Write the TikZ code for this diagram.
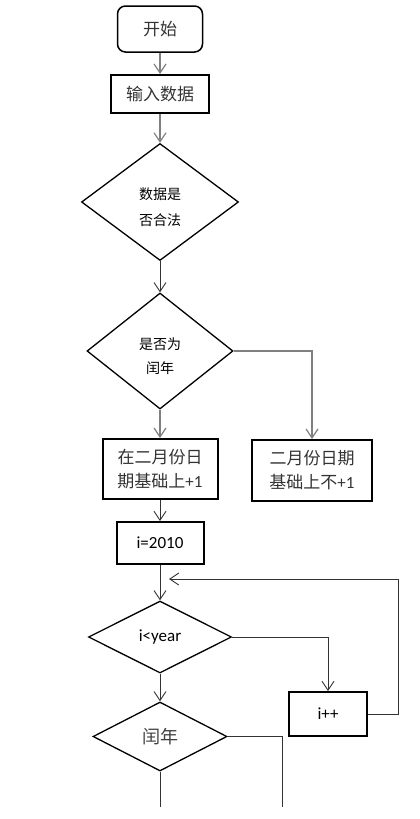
\documentclass[tikz,border=0pt]{standalone}
\usepackage{fontspec}
\setmainfont{Carlito}
\newfontfamily\cjk{Noto Sans CJK SC}
\usetikzlibrary{shapes.geometric, arrows.meta}
\tikzstyle{arrow} = [->,>={Straight Barb[length=9pt,width=12pt]}]
\tikzstyle{grayline} = [draw=black!50, line width=1.2pt]
\tikzstyle{darkline} = [draw=black!80, line width=0.9pt]
\tikzstyle{procbox} = [rectangle, draw, line width=2pt, inner sep=0pt, align=center, text=black!80, font=\fontsize{17}{24}\selectfont]
\tikzstyle{decision} = [diamond, draw, line width=1.3pt, inner sep=0pt, align=center]

\begin{document}
\begin{tikzpicture}[x=1pt,y=-1pt]
    \useasboundingbox (0,0) rectangle (420,819);
    % Nodes
    \node[rectangle, rounded corners=8pt, draw, line width=1.5pt, minimum width=85pt, minimum height=46pt, text=black!80, font=\cjk\fontsize{17}{20}\selectfont] (start) at (160,29) {开始};
    \node[procbox, minimum width=98pt, minimum height=38pt] (input) at (160,94) {\cjk 输入数据};
    \node[decision, minimum width=157pt, minimum height=117pt, font=\cjk\fontsize{14}{18}\selectfont] (valid) at (160,202) {\raisebox{-10.5pt}[0pt][0pt]{\begin{tabular}{@{}c@{}}数据是\\[8pt]否合法\end{tabular}}};
    \node[decision, minimum width=146pt, minimum height=116pt, font=\cjk\fontsize{14}{18}\selectfont] (leap) at (160,351) {\raisebox{-10.5pt}[0pt][0pt]{\begin{tabular}{@{}c@{}}是否为\\[6pt]闰年\end{tabular}}};
    \node[procbox, minimum width=115pt, minimum height=60pt] (plus) at (160,469) {{\cjk 在二月份日}\\{\cjk 期基础上}+1};
    \node[procbox, minimum width=120pt, minimum height=61pt] (noplus) at (312,470.5) {{\cjk 二月份日期}\\{\cjk 基础上不}+1};
    \node[procbox, minimum width=87pt, minimum height=42pt, text=black] (init) at (160,543) {i=2010};
    \node[decision, minimum width=143pt, minimum height=72pt, font=\fontsize{17}{20}\selectfont] (cond) at (160,637) {i<year};
    \node[procbox, minimum width=78pt, minimum height=44pt, text=black] (inc) at (328,714) {i++};
    \node[decision, minimum width=134pt, minimum height=69pt, text=black!75, font=\cjk\fontsize{18}{20}\selectfont] (leapyr) at (160,736.5) {闰年};
    \coordinate (back) at (169,579);
    \coordinate (yesend) at (160,807);
    \coordinate (noend) at (282,807);

    % Edges
    \draw[arrow, grayline] (start) -- (input);
    \draw[arrow, grayline] (input) -- (valid);
    \draw[arrow, darkline] (valid) -- (leap);
    \draw[arrow, grayline] (leap) -- (plus);
    \draw[arrow, grayline] (leap.east) -| (noplus);
    \draw[arrow, darkline] (plus) -- (init);
    \draw[arrow, darkline] (init) -- (cond);
    \draw[arrow, darkline] (cond.east) -| (inc);
    \draw[arrow, darkline] (cond) -- (leapyr);
    \draw[arrow, darkline] (inc.east) -- ++(30,0) |- (back);
    \draw[darkline] (leapyr) -- (yesend);
    \draw[darkline] (leapyr.east) -| (noend);
\end{tikzpicture}
\end{document}
